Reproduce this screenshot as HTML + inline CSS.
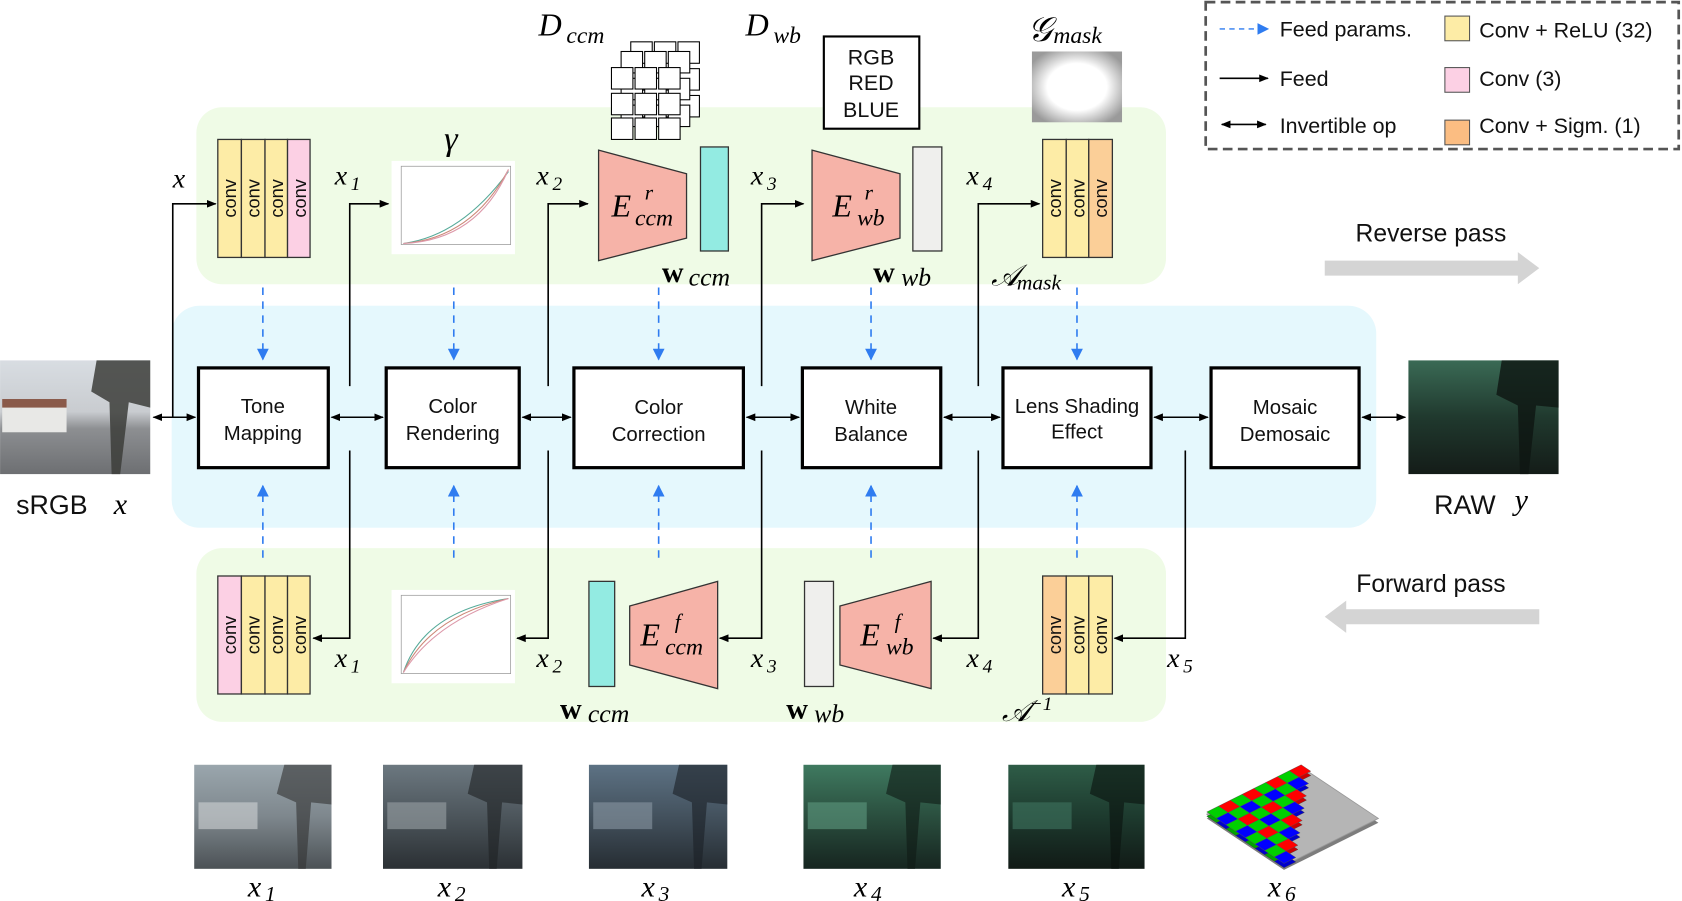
<!DOCTYPE html>
<html><head><meta charset="utf-8"><style>
html,body{margin:0;padding:0;background:#fff}
svg{display:block}
.s{font-family:"Liberation Sans","DejaVu Sans",sans-serif}
.m{font-family:"Liberation Serif",serif;font-style:italic}
.b{font-family:"Liberation Serif",serif;font-weight:bold}
</style></head><body>
<svg width="1682" height="901" viewBox="0 0 1568 840" xmlns="http://www.w3.org/2000/svg">
<defs>
<marker id="ah" viewBox="0 0 10 10" refX="9" refY="5" markerWidth="9" markerHeight="9" orient="auto-start-reverse" markerUnits="userSpaceOnUse"><path d="M0,1 L10,5 L0,9 z" fill="#000"/></marker>
<marker id="bh" viewBox="0 0 10 10" refX="9" refY="5" markerWidth="11" markerHeight="11" orient="auto" markerUnits="userSpaceOnUse"><path d="M0,0 L10,5 L0,10 z" fill="#2f7cf0"/></marker>
<radialGradient id="gm" cx="0.5" cy="0.5" r="0.6"><stop offset="0.55" stop-color="#fff"/><stop offset="1" stop-color="#9a9a9a"/></radialGradient>
<linearGradient id="srgb" x1="0" y1="0" x2="0" y2="1"><stop offset="0" stop-color="#d8dde2"/><stop offset="0.45" stop-color="#c9ccd0"/><stop offset="0.6" stop-color="#8d8f92"/><stop offset="1" stop-color="#6d6f72"/></linearGradient>
<linearGradient id="raw" x1="0" y1="0" x2="0" y2="1"><stop offset="0" stop-color="#3a6a55"/><stop offset="0.5" stop-color="#20392e"/><stop offset="1" stop-color="#141c18"/></linearGradient>
<linearGradient id="t1" x1="0" y1="0" x2="0" y2="1"><stop offset="0" stop-color="#9aa6ad"/><stop offset="0.5" stop-color="#7e878d"/><stop offset="1" stop-color="#4c5256"/></linearGradient>
<linearGradient id="t2" x1="0" y1="0" x2="0" y2="1"><stop offset="0" stop-color="#6c7880"/><stop offset="0.5" stop-color="#4c555b"/><stop offset="1" stop-color="#2b3034"/></linearGradient>
<linearGradient id="t3" x1="0" y1="0" x2="0" y2="1"><stop offset="0" stop-color="#5d7284"/><stop offset="0.5" stop-color="#43515d"/><stop offset="1" stop-color="#262d33"/></linearGradient>
<linearGradient id="t4" x1="0" y1="0" x2="0" y2="1"><stop offset="0" stop-color="#3f7a60"/><stop offset="0.5" stop-color="#2a4e3e"/><stop offset="1" stop-color="#162520"/></linearGradient>
<linearGradient id="t5" x1="0" y1="0" x2="0" y2="1"><stop offset="0" stop-color="#2e5c47"/><stop offset="0.5" stop-color="#1d3a2e"/><stop offset="1" stop-color="#111a16"/></linearGradient>
<filter id="dark"><feComponentTransfer><feFuncR type="linear" slope="0.6"/><feFuncG type="linear" slope="0.6"/><feFuncB type="linear" slope="0.6"/></feComponentTransfer></filter>
<g id="cells">
<g transform="matrix(11,-5.5,9,6,1125,757)" stroke="#555" stroke-width="0.03">
<rect x="0" y="0" width="1" height="1" fill="#00d000"/><rect x="1" y="0" width="1" height="1" fill="#ff0000"/><rect x="2" y="0" width="1" height="1" fill="#00d000"/><rect x="3" y="0" width="1" height="1" fill="#ff0000"/><rect x="4" y="0" width="1" height="1" fill="#00d000"/><rect x="5" y="0" width="1" height="1" fill="#ff0000"/><rect x="6" y="0" width="1" height="1" fill="#00d000"/><rect x="7" y="0" width="1" height="1" fill="#ff0000"/>
<rect x="0" y="1" width="1" height="1" fill="#0000ff"/><rect x="1" y="1" width="1" height="1" fill="#00d000"/><rect x="2" y="1" width="1" height="1" fill="#0000ff"/><rect x="3" y="1" width="1" height="1" fill="#00d000"/><rect x="4" y="1" width="1" height="1" fill="#0000ff"/><rect x="5" y="1" width="1" height="1" fill="#00d000"/><rect x="6" y="1" width="1" height="1" fill="#0000ff"/>
<rect x="0" y="2" width="1" height="1" fill="#00d000"/><rect x="1" y="2" width="1" height="1" fill="#ff0000"/><rect x="2" y="2" width="1" height="1" fill="#00d000"/><rect x="3" y="2" width="1" height="1" fill="#ff0000"/><rect x="4" y="2" width="1" height="1" fill="#00d000"/><rect x="5" y="2" width="1" height="1" fill="#ff0000"/>
<rect x="0" y="3" width="1" height="1" fill="#0000ff"/><rect x="1" y="3" width="1" height="1" fill="#00d000"/><rect x="2" y="3" width="1" height="1" fill="#0000ff"/><rect x="3" y="3" width="1" height="1" fill="#00d000"/><rect x="4" y="3" width="1" height="1" fill="#0000ff"/>
<rect x="0" y="4" width="1" height="1" fill="#00d000"/><rect x="1" y="4" width="1" height="1" fill="#ff0000"/><rect x="2" y="4" width="1" height="1" fill="#00d000"/><rect x="3" y="4" width="1" height="1" fill="#ff0000"/>
<rect x="0" y="5" width="1" height="1" fill="#0000ff"/><rect x="1" y="5" width="1" height="1" fill="#00d000"/><rect x="2" y="5" width="1" height="1" fill="#0000ff"/>
<rect x="0" y="6" width="1" height="1" fill="#00d000"/><rect x="1" y="6" width="1" height="1" fill="#ff0000"/>
<rect x="0" y="7" width="1" height="1" fill="#0000ff"/>
</g>
</g>
</defs>

<rect x="183" y="100" width="904" height="165" rx="24" fill="#effbe6"/>
<rect x="160" y="285" width="1123" height="207" rx="26" fill="#e5f8fd"/>
<rect x="183" y="511" width="904" height="162" rx="24" fill="#effbe6"/>

<!-- legend -->
<rect x="1124" y="2" width="441" height="137" fill="#fff" stroke="#555" stroke-width="2.5" stroke-dasharray="9,5"/>
<line x1="1137" y1="27" x2="1182" y2="27" stroke="#2f7cf0" stroke-width="1.3" stroke-dasharray="5,4" marker-end="url(#bh)"/>
<line x1="1137" y1="73" x2="1182" y2="73" stroke="#000" stroke-width="1.5" marker-end="url(#ah)"/>
<line x1="1139" y1="116" x2="1180" y2="116" stroke="#000" stroke-width="1.5" marker-start="url(#ah)" marker-end="url(#ah)"/>
<g class="s" font-size="20" fill="#111">
<text x="1193" y="34">Feed params.</text>
<text x="1193" y="80">Feed</text>
<text x="1193" y="124">Invertible op</text>
<text x="1379" y="35">Conv + ReLU (32)</text>
<text x="1379" y="80">Conv (3)</text>
<text x="1379" y="124">Conv + Sigm. (1)</text>
</g>
<rect x="1347" y="15" width="23" height="23" fill="#fdeca6" stroke="#555"/>
<rect x="1347" y="63" width="23" height="23" fill="#fcd0e4" stroke="#555"/>
<rect x="1347" y="112" width="23" height="23" fill="#fbbd82" stroke="#555"/>

<text x="1334" y="225" class="s" font-size="23" text-anchor="middle" fill="#111">Reverse pass</text>
<path d="M1235,243 H1415 V235 L1435,250 L1415,265 V257 H1235 z" fill="#d4d4d4"/>
<text x="1334" y="552" class="s" font-size="23" text-anchor="middle" fill="#111">Forward pass</text>
<path d="M1435,568 H1255 V560 L1235,575 L1255,590 V582 H1435 z" fill="#d4d4d4"/>

<!-- photos -->
<rect x="0" y="336" width="140" height="106" fill="url(#srgb)"/>
<rect x="2" y="378" width="60" height="25" fill="#e8e8e6"/><rect x="2" y="372" width="60" height="8" fill="#8a5a4a"/>
<path d="M90,336 L140,336 L140,380 L120,375 L112,442 L104,442 L102,375 L85,365 z" fill="#3c3d3a" opacity="0.85"/>
<rect x="1313" y="336" width="140" height="106" fill="url(#raw)"/>
<path d="M1400,336 L1453,336 L1453,380 L1432,378 L1425,442 L1417,442 L1415,378 L1395,368 z" fill="#0e1511" opacity="0.8"/>
<text x="15" y="479" class="s" font-size="25" fill="#111">sRGB</text><text x="106" y="479" class="m" font-size="28">x</text>
<text x="1337" y="479" class="s" font-size="25" fill="#111">RAW</text><text x="1412" y="475" class="m" font-size="28">y</text>

<g fill="#fff" stroke="#000" stroke-width="3">
<rect x="185" y="343" width="121" height="93"/>
<rect x="360" y="343" width="124" height="93"/>
<rect x="535" y="343" width="158" height="93"/>
<rect x="748" y="343" width="129" height="93"/>
<rect x="935" y="343" width="138" height="93"/>
<rect x="1129" y="343" width="138" height="93"/>
</g>
<g class="s" font-size="19" text-anchor="middle" fill="#111">
<text x="245" y="385">Tone</text><text x="245" y="410">Mapping</text>
<text x="422" y="385">Color</text><text x="422" y="410">Rendering</text>
<text x="614" y="386">Color</text><text x="614" y="411">Correction</text>
<text x="812" y="386">White</text><text x="812" y="411">Balance</text>
<text x="1004" y="385">Lens Shading</text><text x="1004" y="409">Effect</text>
<text x="1198" y="386">Mosaic</text><text x="1198" y="411">Demosaic</text>
</g>

<g stroke="#000" stroke-width="1.5" fill="none">
<line x1="143" y1="389" x2="182" y2="389" marker-start="url(#ah)" marker-end="url(#ah)"/>
<line x1="309" y1="389" x2="357" y2="389" marker-start="url(#ah)" marker-end="url(#ah)"/>
<line x1="487" y1="389" x2="532" y2="389" marker-start="url(#ah)" marker-end="url(#ah)"/>
<line x1="696" y1="389" x2="745" y2="389" marker-start="url(#ah)" marker-end="url(#ah)"/>
<line x1="880" y1="389" x2="932" y2="389" marker-start="url(#ah)" marker-end="url(#ah)"/>
<line x1="1076" y1="389" x2="1126" y2="389" marker-start="url(#ah)" marker-end="url(#ah)"/>
<line x1="1270" y1="389" x2="1310" y2="389" marker-start="url(#ah)" marker-end="url(#ah)"/>
<polyline points="161,389 161,190 201,190" marker-end="url(#ah)"/>
<polyline points="326,360 326,190 362,190" marker-end="url(#ah)"/>
<polyline points="511,360 511,190 548,190" marker-end="url(#ah)"/>
<polyline points="710,360 710,190 749,190" marker-end="url(#ah)"/>
<polyline points="912,360 912,190 969,190" marker-end="url(#ah)"/>
<polyline points="326,420 326,595 292,595" marker-end="url(#ah)"/>
<polyline points="511,420 511,595 482,595" marker-end="url(#ah)"/>
<polyline points="710,420 710,595 671,595" marker-end="url(#ah)"/>
<polyline points="912,420 912,595 870,595" marker-end="url(#ah)"/>
<polyline points="1105,420 1105,595 1039,595" marker-end="url(#ah)"/>
</g>

<g stroke="#2f7cf0" stroke-width="1.5" stroke-dasharray="7,6" fill="none">
<line x1="245" y1="268" x2="245" y2="335" marker-end="url(#bh)"/>
<line x1="423" y1="268" x2="423" y2="335" marker-end="url(#bh)"/>
<line x1="614" y1="268" x2="614" y2="335" marker-end="url(#bh)"/>
<line x1="812" y1="268" x2="812" y2="335" marker-end="url(#bh)"/>
<line x1="1004" y1="268" x2="1004" y2="335" marker-end="url(#bh)"/>
<line x1="245" y1="520" x2="245" y2="453" marker-end="url(#bh)"/>
<line x1="423" y1="520" x2="423" y2="453" marker-end="url(#bh)"/>
<line x1="614" y1="520" x2="614" y2="453" marker-end="url(#bh)"/>
<line x1="812" y1="520" x2="812" y2="453" marker-end="url(#bh)"/>
<line x1="1004" y1="520" x2="1004" y2="453" marker-end="url(#bh)"/>
</g>

<g stroke="#333" stroke-width="1.2">
<rect x="203" y="130" width="22" height="110" fill="#fdeca6"/><rect x="225" y="130" width="22" height="110" fill="#fdeca6"/><rect x="247" y="130" width="21" height="110" fill="#fdeca6"/><rect x="268" y="130" width="21" height="110" fill="#fcd0e4"/>
<rect x="203" y="537" width="22" height="110" fill="#fcd0e4"/><rect x="225" y="537" width="22" height="110" fill="#fdeca6"/><rect x="247" y="537" width="21" height="110" fill="#fdeca6"/><rect x="268" y="537" width="21" height="110" fill="#fdeca6"/>
<rect x="972" y="130" width="22" height="110" fill="#fdeca6"/><rect x="994" y="130" width="21" height="110" fill="#fdeca6"/><rect x="1015" y="130" width="22" height="110" fill="#fbcf98"/>
<rect x="972" y="537" width="22" height="110" fill="#fbcf98"/><rect x="994" y="537" width="21" height="110" fill="#fdeca6"/><rect x="1015" y="537" width="22" height="110" fill="#fdeca6"/>
</g>
<g class="s" font-size="17" fill="#111">
<text transform="translate(220,185) rotate(-90)" text-anchor="middle">conv</text>
<text transform="translate(242,185) rotate(-90)" text-anchor="middle">conv</text>
<text transform="translate(264,185) rotate(-90)" text-anchor="middle">conv</text>
<text transform="translate(285,185) rotate(-90)" text-anchor="middle">conv</text>
<text transform="translate(220,592) rotate(-90)" text-anchor="middle">conv</text>
<text transform="translate(242,592) rotate(-90)" text-anchor="middle">conv</text>
<text transform="translate(264,592) rotate(-90)" text-anchor="middle">conv</text>
<text transform="translate(285,592) rotate(-90)" text-anchor="middle">conv</text>
<text transform="translate(989,185) rotate(-90)" text-anchor="middle">conv</text>
<text transform="translate(1011,185) rotate(-90)" text-anchor="middle">conv</text>
<text transform="translate(1032,185) rotate(-90)" text-anchor="middle">conv</text>
<text transform="translate(989,592) rotate(-90)" text-anchor="middle">conv</text>
<text transform="translate(1011,592) rotate(-90)" text-anchor="middle">conv</text>
<text transform="translate(1032,592) rotate(-90)" text-anchor="middle">conv</text>
</g>

<rect x="365" y="150" width="115" height="87" fill="#fff"/>
<rect x="374" y="155" width="102" height="73" fill="none" stroke="#999" stroke-width="0.7"/>
<path d="M376,227 Q430,220 474,160" stroke="#5a9" fill="none" stroke-width="1"/>
<path d="M376,227 Q440,222 474,158" stroke="#c87" fill="none" stroke-width="1"/>
<path d="M376,227 Q445,224 474,158" stroke="#d9a" fill="none" stroke-width="1"/>
<rect x="365" y="550" width="115" height="87" fill="#fff"/>
<rect x="374" y="555" width="102" height="73" fill="none" stroke="#999" stroke-width="0.7"/>
<path d="M376,627 Q395,570 474,558" stroke="#5a9" fill="none" stroke-width="1"/>
<path d="M376,627 Q400,575 474,558" stroke="#c87" fill="none" stroke-width="1"/>
<path d="M376,627 Q405,580 474,558" stroke="#d9a" fill="none" stroke-width="1"/>
<text x="414" y="140" class="m" font-size="32">γ</text>

<g stroke="#333" stroke-width="1.2">
<polygon points="558,140 640,162 640,222 558,243" fill="#f6b3a8"/>
<rect x="653" y="137" width="26" height="97" fill="#93ebe2"/>
<polygon points="757,140 839,162 839,222 757,243" fill="#f6b3a8"/>
<rect x="851" y="137" width="27" height="97" fill="#efefed"/>
<rect x="549" y="542" width="24" height="98" fill="#93ebe2"/>
<polygon points="587,565 669,542 669,642 587,620" fill="#f6b3a8"/>
<rect x="750" y="542" width="27" height="98" fill="#efefed"/>
<polygon points="783,565 868,542 868,642 783,620" fill="#f6b3a8"/>
</g>
<g class="m" font-size="30">
<text x="570" y="202">E</text><text x="601" y="186" font-size="20">r</text><text x="592" y="210" font-size="22">ccm</text>
<text x="776" y="202">E</text><text x="806" y="186" font-size="20">r</text><text x="799" y="210" font-size="22">wb</text>
<text x="597" y="602">E</text><text x="629" y="586" font-size="20">f</text><text x="620" y="610" font-size="22">ccm</text>
<text x="802" y="602">E</text><text x="834" y="586" font-size="20">f</text><text x="826" y="610" font-size="22">wb</text>
</g>
<text x="617" y="263" class="b" font-size="28">w</text><text x="642" y="266" class="m" font-size="24">ccm</text>
<text x="814" y="263" class="b" font-size="28">w</text><text x="840" y="266" class="m" font-size="24">wb</text>
<text x="522" y="670" class="b" font-size="28">w</text><text x="548" y="673" class="m" font-size="24">ccm</text>
<text x="733" y="670" class="b" font-size="28">w</text><text x="759" y="673" class="m" font-size="24">wb</text>

<g class="m" font-size="26">
<text x="161" y="175">x</text>
<text x="312" y="172">x</text><text x="327" y="177" font-size="18">1</text>
<text x="500" y="172">x</text><text x="515" y="177" font-size="18">2</text>
<text x="700" y="172">x</text><text x="715" y="177" font-size="18">3</text>
<text x="901" y="172">x</text><text x="916" y="177" font-size="18">4</text>
<text x="312" y="622">x</text><text x="327" y="627" font-size="18">1</text>
<text x="500" y="622">x</text><text x="515" y="627" font-size="18">2</text>
<text x="700" y="622">x</text><text x="715" y="627" font-size="18">3</text>
<text x="901" y="622">x</text><text x="916" y="627" font-size="18">4</text>
<text x="1088" y="622">x</text><text x="1103" y="627" font-size="18">5</text>
</g>
<text x="924" y="266" class="m" font-size="28">𝒜</text><text x="948" y="270" class="m" font-size="20">mask</text>
<text x="934" y="672" class="m" font-size="28">𝒜</text><text x="960" y="662" class="m" font-size="18">−1</text>

<g fill="#fff" stroke="#000" stroke-width="1">
<g transform="translate(18,-18)"><rect x="570" y="57" width="20" height="20"/><rect x="592" y="57" width="20" height="20"/><rect x="614" y="57" width="20" height="20"/><rect x="570" y="82" width="20" height="20"/><rect x="592" y="82" width="20" height="20"/><rect x="614" y="82" width="20" height="20"/><rect x="570" y="107" width="20" height="20"/><rect x="592" y="107" width="20" height="20"/><rect x="614" y="107" width="20" height="20"/></g>
<g transform="translate(9,-9)"><rect x="570" y="57" width="20" height="20"/><rect x="592" y="57" width="20" height="20"/><rect x="614" y="57" width="20" height="20"/><rect x="570" y="82" width="20" height="20"/><rect x="592" y="82" width="20" height="20"/><rect x="614" y="82" width="20" height="20"/><rect x="570" y="107" width="20" height="20"/><rect x="592" y="107" width="20" height="20"/><rect x="614" y="107" width="20" height="20"/></g>
<rect x="570" y="63" width="20" height="20"/><rect x="592" y="63" width="20" height="20"/><rect x="614" y="63" width="20" height="20"/><rect x="570" y="87" width="20" height="20"/><rect x="592" y="87" width="20" height="20"/><rect x="614" y="87" width="20" height="20"/><rect x="570" y="110" width="20" height="20"/><rect x="592" y="110" width="20" height="20"/><rect x="614" y="110" width="20" height="20"/>
</g>
<text x="502" y="33" class="m" font-size="30">D</text><text x="528" y="40" class="m" font-size="22">ccm</text>
<text x="695" y="33" class="m" font-size="30">D</text><text x="721" y="40" class="m" font-size="22">wb</text>
<rect x="768" y="34" width="89" height="86" fill="#fff" stroke="#000" stroke-width="2"/>
<g class="s" font-size="20" text-anchor="middle" fill="#111"><text x="812" y="60">RGB</text><text x="812" y="84">RED</text><text x="812" y="109">BLUE</text></g>
<rect x="962" y="48" width="84" height="66" fill="url(#gm)"/>
<text x="958" y="38" class="m" font-size="32">𝒢</text><text x="982" y="40" class="m" font-size="22">mask</text>

<rect x="181" y="713" width="128" height="97" fill="url(#t1)"/>
<rect x="357" y="713" width="130" height="97" fill="url(#t2)"/>
<rect x="549" y="713" width="129" height="97" fill="url(#t3)"/>
<rect x="749" y="713" width="128" height="97" fill="url(#t4)"/>
<rect x="940" y="713" width="127" height="97" fill="url(#t5)"/>
<g opacity="0.6">
<rect x="185" y="748" width="55" height="25" fill="#d0d4d6"/><path d="M265,713 H309 V750 L290,748 L285,810 H278 L276,748 L258,740 z" fill="#333"/>
<rect x="361" y="748" width="55" height="25" fill="#9aa2a6"/><path d="M442,713 H487 V750 L468,748 L463,810 H456 L454,748 L436,740 z" fill="#1f2224"/>
<rect x="553" y="748" width="55" height="25" fill="#8a98a4"/><path d="M633,713 H678 V750 L659,748 L654,810 H647 L645,748 L627,740 z" fill="#1b2026"/>
<rect x="753" y="748" width="55" height="25" fill="#5e9a80"/><path d="M832,713 H877 V750 L858,748 L853,810 H846 L844,748 L826,740 z" fill="#0f1a15"/>
<rect x="944" y="748" width="55" height="25" fill="#3f7560"/><path d="M1022,713 H1067 V750 L1048,748 L1043,810 H1036 L1034,748 L1016,740 z" fill="#0a120e"/>
</g>

<!-- mosaic -->
<g transform="translate(0,6)">
<polygon points="1125,757 1213,713 1285,761 1197,805" fill="#7d7d7d"/>
</g>
<g transform="translate(0,2)">
<polygon points="1125,757 1213,713 1285,761 1197,805" fill="#b5b5b5" stroke="#999" stroke-width="0.8"/>
</g>
<use href="#cells" transform="translate(0,4)" filter="url(#dark)"/>
<use href="#cells"/>

<g class="m" font-size="28">
<text x="231" y="836">x</text><text x="247" y="840" font-size="20">1</text>
<text x="408" y="836">x</text><text x="424" y="840" font-size="20">2</text>
<text x="598" y="836">x</text><text x="614" y="840" font-size="20">3</text>
<text x="796" y="836">x</text><text x="812" y="840" font-size="20">4</text>
<text x="990" y="836">x</text><text x="1006" y="840" font-size="20">5</text>
<text x="1182" y="836">x</text><text x="1198" y="840" font-size="20">6</text>
</g>
</svg>
</body></html>
